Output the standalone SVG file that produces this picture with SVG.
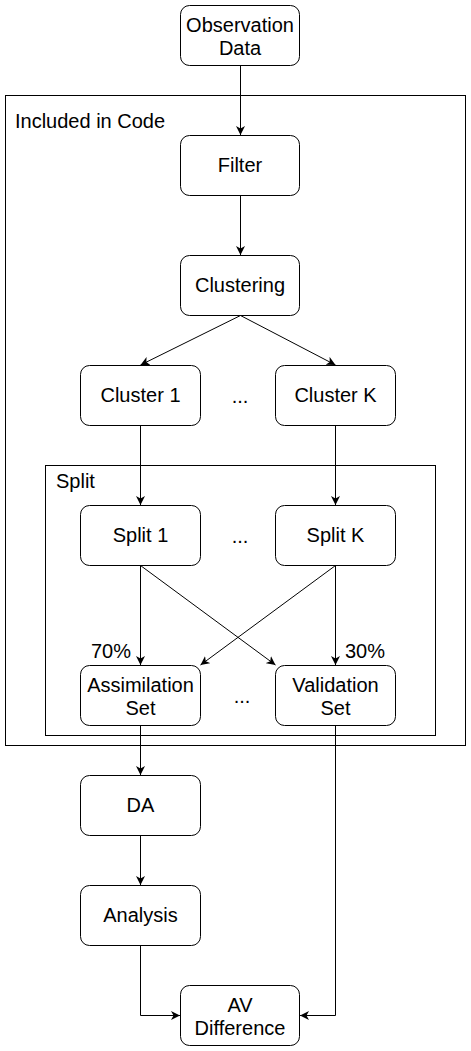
<svg xmlns="http://www.w3.org/2000/svg" width="471" height="1051" viewBox="0 0 471 1051">
<style>
.box{fill:#fff;stroke:#000;stroke-width:1}
.grp{fill:none;stroke:#000;stroke-width:1}
.t{font-family:"Liberation Sans",Arial,Helvetica,sans-serif;font-size:20px;fill:#000;text-anchor:middle}
.l{font-family:"Liberation Sans",Arial,Helvetica,sans-serif;font-size:20px;fill:#000}
.e{fill:none;stroke:#000;stroke-width:1}
</style>
<defs>
<marker id="arr" viewBox="0 0 9 9" refX="9" refY="4.5" markerWidth="9" markerHeight="9" markerUnits="userSpaceOnUse" orient="auto">
<path d="M0,0 L9,4.5 L0,9 L2.5,4.5 Z" fill="#000"/>
</marker>
</defs>
<rect id="included" class="grp" x="5.5" y="95.5" width="460" height="650"/>
<text class="l" x="15" y="128">Included in Code</text>
<rect id="split" class="grp" x="45.5" y="465.5" width="390" height="270"/>
<text class="l" x="56" y="488">Split</text>
<g id="connectors">
<path class="e" d="M240.5,65.5 V135" marker-end="url(#arr)"/>
<path class="e" d="M240.5,195.5 V255" marker-end="url(#arr)"/>
<path class="e" d="M240.5,315.5 L140.5,365" marker-end="url(#arr)"/>
<path class="e" d="M240.5,315.5 L335.5,365" marker-end="url(#arr)"/>
<path class="e" d="M140.5,425.5 V505" marker-end="url(#arr)"/>
<path class="e" d="M335.5,425.5 V505" marker-end="url(#arr)"/>
<path class="e" d="M140.5,565.5 V665" marker-end="url(#arr)"/>
<path class="e" d="M140.5,565.5 L275.5,665" marker-end="url(#arr)"/>
<path class="e" d="M335.5,565.5 L200.5,665" marker-end="url(#arr)"/>
<path class="e" d="M335.5,565.5 V665" marker-end="url(#arr)"/>
<path class="e" d="M140.5,725.5 V775" marker-end="url(#arr)"/>
<path class="e" d="M140.5,835.5 V885" marker-end="url(#arr)"/>
<path class="e" d="M140.5,945.5 V1015.5 H180" marker-end="url(#arr)"/>
<path class="e" d="M335.5,725.5 V1015.5 H300" marker-end="url(#arr)"/>
</g>
<g id="obs"><rect class="box" x="180.5" y="5.5" width="119" height="60" rx="9"/><text class="t" x="240" y="31.5">Observation</text><text class="t" x="240" y="54.5">Data</text></g>
<g id="filter"><rect class="box" x="180.5" y="135.5" width="119" height="60" rx="9"/><text class="t" x="240" y="172">Filter</text></g>
<g id="clustering"><rect class="box" x="180.5" y="255.5" width="119" height="60" rx="9"/><text class="t" x="240" y="292">Clustering</text></g>
<g id="cluster1"><rect class="box" x="80.5" y="365.5" width="120" height="60" rx="9"/><text class="t" x="140.5" y="402">Cluster 1</text></g>
<g id="clusterk"><rect class="box" x="275.5" y="365.5" width="120" height="60" rx="9"/><text class="t" x="335.5" y="402">Cluster K</text></g>
<text class="t" x="240" y="403">...</text>
<g id="split1"><rect class="box" x="80.5" y="505.5" width="120" height="60" rx="9"/><text class="t" x="140.5" y="542">Split 1</text></g>
<g id="splitk"><rect class="box" x="275.5" y="505.5" width="120" height="60" rx="9"/><text class="t" x="335.5" y="542">Split K</text></g>
<text class="t" x="240" y="543">...</text>
<text class="l" x="91" y="658">70%</text>
<text class="l" x="345" y="658">30%</text>
<g id="assim"><rect class="box" x="80.5" y="665.5" width="120" height="60" rx="9"/><text class="t" x="140.5" y="691.5">Assimilation</text><text class="t" x="140.5" y="714.5">Set</text></g>
<g id="valid"><rect class="box" x="275.5" y="665.5" width="120" height="60" rx="9"/><text class="t" x="335.5" y="691.5">Validation</text><text class="t" x="335.5" y="714.5">Set</text></g>
<text class="t" x="242" y="703">...</text>
<g id="da"><rect class="box" x="80.5" y="775.5" width="120" height="60" rx="9"/><text class="t" x="140.5" y="812">DA</text></g>
<g id="analysis"><rect class="box" x="80.5" y="885.5" width="120" height="60" rx="9"/><text class="t" x="140.5" y="922">Analysis</text></g>
<g id="avdiff"><rect class="box" x="180.5" y="985.5" width="119" height="60" rx="9"/><text class="t" x="240" y="1011.5">AV</text><text class="t" x="240" y="1034.5">Difference</text></g>
</svg>
